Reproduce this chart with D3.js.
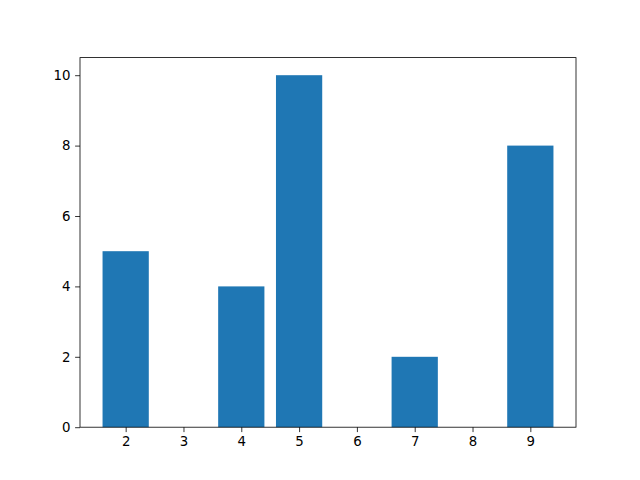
<!DOCTYPE html>
<html>
<head>
<meta charset="utf-8">
<script src="https://cdn.jsdelivr.net/npm/d3@7"></script>
<style>
  body { margin: 0; background: #fff; }
  text { font-family: "DejaVu Sans", sans-serif; }
</style>
</head>
<body>
<div id="chart"></div>
<script>
// bar positions and heights
var xValues = [2, 4, 5, 7, 9];
var heights = [5, 4, 10, 2, 8];
var xTicks = [2, 3, 4, 5, 6, 7, 8, 9];
var yTicks = [0, 2, 4, 6, 8, 10];

var svgWidth = 640;
var svgHeight = 480;
var margin = { top: 57.6, right: 64, bottom: 52.8, left: 80 };
var width = svgWidth - margin.left - margin.right;
var height = svgHeight - margin.top - margin.bottom;
var barWidth = 0.8;

var svg = d3.select("#chart")
    .append("svg")
    .attr("width", svgWidth)
    .attr("height", svgHeight);

var chartGroup = svg.append("g")
    .attr("transform", `translate(${margin.left}, ${margin.top})`);

// matplotlib style 5% padding on x, y sticks at zero
var xMin = d3.min(xValues) - barWidth / 2;
var xMax = d3.max(xValues) + barWidth / 2;
var xPad = (xMax - xMin) * 0.05;
var xScale = d3.scaleLinear()
    .domain([xMin - xPad, xMax + xPad])
    .range([0, width]);

var yMax = d3.max(heights);
var yScale = d3.scaleLinear()
    .domain([0, yMax * 1.05])
    .range([height, 0]);

var data = xValues.map((x, i) => ({ x: x, h: heights[i] }));

chartGroup.selectAll("rect")
    .data(data)
    .enter()
    .append("rect")
    .attr("x", d => xScale(d.x - barWidth / 2))
    .attr("width", d => xScale(d.x + barWidth / 2) - xScale(d.x - barWidth / 2))
    .attr("y", d => yScale(d.h))
    .attr("height", d => yScale(0) - yScale(d.h))
    .attr("fill", "#1f77b4");

var bottomAxis = d3.axisBottom(xScale)
    .tickValues(xTicks)
    .tickFormat(d3.format("d"))
    .tickSizeInner(4.9)
    .tickSizeOuter(0)
    .tickPadding(4.7);

var leftAxis = d3.axisLeft(yScale)
    .tickValues(yTicks)
    .tickFormat(d3.format("d"))
    .tickSizeInner(4.9)
    .tickSizeOuter(0)
    .tickPadding(4.7);

var xAxis = chartGroup.append("g")
    .attr("transform", `translate(0, ${height})`)
    .call(bottomAxis);

var yAxis = chartGroup.append("g")
    .call(leftAxis);

[xAxis, yAxis].forEach(function(ax) {
    ax.select(".domain").remove();
    ax.selectAll("line").attr("stroke", "#000").attr("stroke-width", 0.8);
    ax.selectAll("text")
        .attr("fill", "#000")
        .style("font-size", "13.33px")
        .style("font-family", "DejaVu Sans, sans-serif");
});

// frame
chartGroup.append("rect")
    .attr("x", 0)
    .attr("y", 0)
    .attr("width", width)
    .attr("height", height)
    .attr("fill", "none")
    .attr("stroke", "#000")
    .attr("stroke-width", 0.8);
</script>
</body>
</html>
